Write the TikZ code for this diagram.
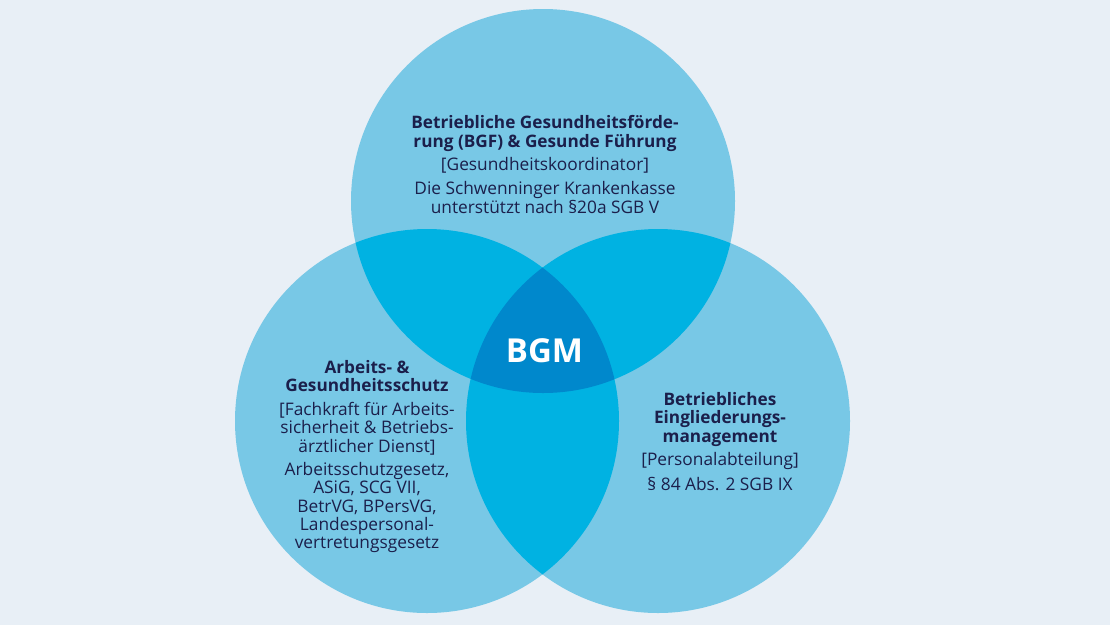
\documentclass[tikz,border=0pt]{standalone}
\usepackage{fontspec}
\setmainfont{Open Sans}
\definecolor{bg}{HTML}{E8EFF6}
\definecolor{cone}{HTML}{78C8E6}
\definecolor{ctwo}{HTML}{00B2E2}
\definecolor{cthree}{HTML}{0088CC}
\definecolor{ink}{HTML}{1B1F4B}
\begin{document}
\begin{tikzpicture}[x=1pt,y=-1pt,
  hd/.style={anchor=base,inner sep=0pt,text=ink,font=\fontsize{17.2}{19}\selectfont\bfseries},
  tx/.style={anchor=base,inner sep=0pt,text=ink,font=\fontsize{17.3}{19}\selectfont},
  big/.style={anchor=base,inner sep=0pt,text=white,font=\fontsize{33}{36}\selectfont\bfseries}]
\fill[bg] (0,0) rectangle (1110,625);
\useasboundingbox (0,0) rectangle (1110,625);
\coordinate (T) at (543,201);
\coordinate (L) at (427,421);
\coordinate (R) at (658,421);
\fill[cone] (T) circle[radius=192pt] (L) circle[radius=192pt] (R) circle[radius=192pt];
\begin{scope}
  \clip (T) circle[radius=192pt];
  \fill[ctwo] (L) circle[radius=192pt] (R) circle[radius=192pt];
\end{scope}
\begin{scope}
  \clip (L) circle[radius=192pt];
  \fill[ctwo] (R) circle[radius=192pt];
\end{scope}
\begin{scope}
  \clip (T) circle[radius=192pt];
  \clip (L) circle[radius=192pt];
  \fill[cthree] (R) circle[radius=192pt];
\end{scope}
% top
\node[hd] (t1) at (545,128) {Betriebliche Gesundheitsförde-};
\node[hd] (t2) at (545,147) {rung (BGF) \& Gesunde Führung};
\node[tx] (t3) at (545,170.5) {[Gesundheitskoordinator]};
\node[tx] (t4) at (545,194.5) {Die Schwenninger Krankenkasse};
\node[tx] (t5) at (545,213) {unterstützt nach §20a SGB V};
% left
\node[hd] (l1) at (367,373) {Arbeits- \&};
\node[hd] (l2) at (367,391) {Gesundheitsschutz};
\node[tx] (l3) at (367,415) {[Fachkraft für Arbeits-};
\node[tx] (l4) at (367,433.5) {sicherheit \& Betriebs-};
\node[tx] (l5) at (367,452) {ärztlicher Dienst]};
\node[tx] (l6) at (367,475) {Arbeitsschutzgesetz,};
\node[tx] (l7) at (367,493.5) {ASiG, SCG VII,};
\node[tx] (l8) at (367,512) {BetrVG, BPersVG,};
\node[tx] (l9) at (367,530.5) {Landespersonal-};
\node[tx] (l10) at (367,548.5) {vertretungsgesetz};
% right
\node[hd] (r1) at (720,405) {Betriebliches};
\node[hd] (r2) at (720,423) {Eingliederungs-};
\node[hd] (r3) at (720,442) {management};
\node[tx] (r4) at (720,465.5) {[Personalabteilung]};
\node[tx] (r5) at (720,490) {§ 84 Abs. 2 SGB IX};
% center
\node[big] (bgm) at (544.5,362) {BGM};
\end{tikzpicture}
\end{document}
